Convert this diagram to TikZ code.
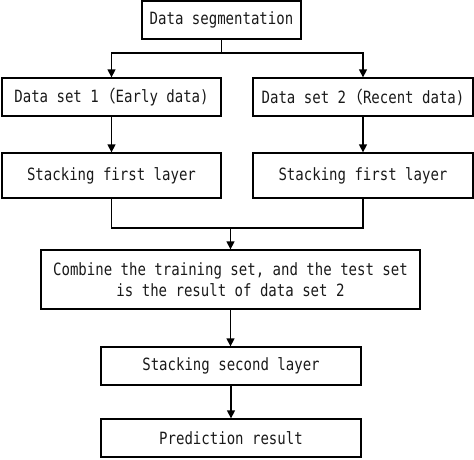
\documentclass[tikz,border=0pt]{standalone}
\usepackage{fontspec}
\setmainfont[FakeStretch=0.83]{DejaVu Sans Mono}
\newfontfamily\cjk{Noto Sans CJK SC}
\usetikzlibrary{arrows.meta}
\begin{document}
\begin{tikzpicture}[x=1pt,y=-1pt,
  box/.style={draw, line width=1.3pt, minimum height=38pt, inner sep=0pt, align=center,
    font=\fontsize{16.9}{21}\selectfont, text=black!90},
  conn/.style={line width=1.3pt},
  arr/.style={conn, -{Triangle[length=8pt,width=8pt]}}]
\useasboundingbox (0,0) rectangle (474,459);
\node[box, minimum width=159pt] (seg) at (221.5,20) {Data segmentation};
\node[box, minimum width=219pt] (ds1) at (111.5,97) {Data set 1{\cjk （}Early data)};
\node[box, minimum width=220pt] (ds2) at (363,97) {Data set 2{\cjk （}Recent data)};
\node[box, minimum width=219pt, minimum height=45pt] (sf1) at (111.5,175.5) {Stacking first layer};
\node[box, minimum width=220pt, minimum height=45pt] (sf2) at (363,175.5) {Stacking first layer};
\node[box, minimum width=379pt, minimum height=59pt] (comb) at (230.5,279.5) {Combine the training set, and the test set\\is the result of data set 2};
\node[box, minimum width=260pt] (ssl) at (231,366) {Stacking second layer};
\node[box, minimum width=260pt] (pred) at (231,438) {Prediction result};
\coordinate (split) at (221.5,53);
\coordinate (join) at (230.5,228);
\draw[conn] (seg.south) -- (split);
\draw[arr] (split) -| (ds1.north);
\draw[arr] (split) -| (ds2.north);
\draw[arr] (ds1.south) -- (sf1.north);
\draw[arr] (ds2.south) -- (sf2.north);
\draw[conn] (sf1.south) |- (join) -| (sf2.south);
\draw[arr] (join) -- (comb.north);
\draw[arr] (comb.south) -- (comb.south |- ssl.north);
\draw[arr] (ssl.south) -- (pred.north);
\end{tikzpicture}
\end{document}
